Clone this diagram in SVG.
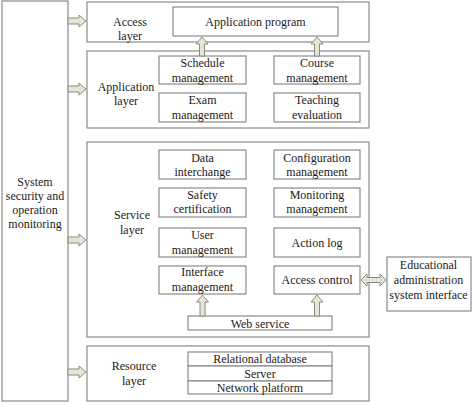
<svg xmlns="http://www.w3.org/2000/svg" width="474" height="405" viewBox="0 0 474 405" font-family="Liberation Serif, DejaVu Serif, serif">
<style>
.box{fill:#fff;stroke:#8a8a8a;stroke-width:1.2}
.t{font-size:12px;fill:#1a1a1a;text-anchor:middle}
.arr{fill:#e6e6d6;stroke:#8a8a80;stroke-width:1}
</style>
<rect width="474" height="405" fill="#fff"/>
<g id="security">
<rect class="box" x="2" y="1" width="66" height="400"/>
<text class="t" x="35" y="186">System</text>
<text class="t" x="35" y="200">security and</text>
<text class="t" x="35" y="214">operation</text>
<text class="t" x="35" y="228">monitoring</text>
</g>
<g id="access-layer">
<rect class="box" x="87" y="2" width="282" height="40"/>
<text class="t" x="130" y="26">Access</text>
<text class="t" x="130" y="40">layer</text>
</g>
<g id="app-program">
<rect class="box" x="173" y="7" width="165" height="29"/>
<text class="t" x="255.5" y="25.5">Application program</text>
</g>
<g id="application-layer">
<rect class="box" x="87" y="51" width="282" height="77"/>
<text class="t" x="126" y="91">Application</text>
<text class="t" x="126" y="105">layer</text>
</g>
<g id="schedule">
<rect class="box" x="159" y="56" width="87" height="28"/>
<text class="t" x="202.5" y="67">Schedule</text>
<text class="t" x="202.5" y="81.5">management</text>
</g>
<g id="exam">
<rect class="box" x="159" y="93" width="87" height="29"/>
<text class="t" x="202.5" y="104">Exam</text>
<text class="t" x="202.5" y="119">management</text>
</g>
<g id="course">
<rect class="box" x="274" y="56" width="86" height="28"/>
<text class="t" x="317" y="67">Course</text>
<text class="t" x="317" y="81.5">management</text>
</g>
<g id="teaching">
<rect class="box" x="274" y="93" width="86" height="29"/>
<text class="t" x="317" y="104">Teaching</text>
<text class="t" x="317" y="119">evaluation</text>
</g>
<g id="service-layer">
<rect class="box" x="87" y="142" width="282" height="195"/>
<text class="t" x="132" y="219">Service</text>
<text class="t" x="132" y="233.5">layer</text>
</g>
<g id="data-interchange">
<rect class="box" x="159" y="150" width="87" height="29"/>
<text class="t" x="202.5" y="162">Data</text>
<text class="t" x="202.5" y="176">interchange</text>
</g>
<g id="safety">
<rect class="box" x="159" y="188" width="87" height="29"/>
<text class="t" x="202.5" y="199">Safety</text>
<text class="t" x="202.5" y="213">certification</text>
</g>
<g id="user">
<rect class="box" x="159" y="228" width="87" height="29"/>
<text class="t" x="202.5" y="239">User</text>
<text class="t" x="202.5" y="254">management</text>
</g>
<g id="interface">
<rect class="box" x="159" y="266" width="87" height="28"/>
<text class="t" x="202.5" y="276">Interface</text>
<text class="t" x="202.5" y="291">management</text>
</g>
<g id="configuration">
<rect class="box" x="274" y="150" width="86" height="29"/>
<text class="t" x="317" y="162">Configuration</text>
<text class="t" x="317" y="176">management</text>
</g>
<g id="monitoring">
<rect class="box" x="274" y="188" width="86" height="29"/>
<text class="t" x="317" y="199">Monitoring</text>
<text class="t" x="317" y="213">management</text>
</g>
<g id="action-log">
<rect class="box" x="274" y="228" width="86" height="29"/>
<text class="t" x="317" y="246.5">Action log</text>
</g>
<g id="access-control">
<rect class="box" x="274" y="266" width="86" height="28"/>
<text class="t" x="317" y="283.5">Access control</text>
</g>
<g id="web-service">
<rect class="box" x="188" y="316" width="144" height="14"/>
<text class="t" x="260" y="327.5">Web service</text>
</g>
<g id="resource-layer">
<rect class="box" x="87" y="346" width="282" height="55"/>
<text class="t" x="134" y="370">Resource</text>
<text class="t" x="134" y="385">layer</text>
</g>
<g id="resource-stack">
<rect class="box" x="188" y="352" width="144" height="14"/>
<rect class="box" x="188" y="366" width="144" height="15"/>
<rect class="box" x="188" y="381" width="144" height="13"/>
<text class="t" x="260" y="363">Relational database</text>
<text class="t" x="260" y="377.5">Server</text>
<text class="t" x="260" y="391.5">Network platform</text>
</g>
<g id="edu-interface">
<rect class="box" x="387" y="257" width="84" height="54"/>
<text class="t" x="428.5" y="269">Educational</text>
<text class="t" x="428.5" y="284">administration</text>
<text class="t" x="428.5" y="298.5">system interface</text>
</g>
<g id="connectors">
<path class="arr" d="M68,18 H79 V15 L86,21 L79,27 V24 H68 Z"/>
<path class="arr" d="M68,86 H79 V83 L86,89 L79,95 V92 H68 Z"/>
<path class="arr" d="M68,237 H79 V234 L86,240 L79,246 V243 H68 Z"/>
<path class="arr" d="M68,369 H79 V366 L86,372 L79,378 V375 H68 Z"/>
<path class="arr" d="M199.5,56 V44 H196 L202,37 L208,44 H204.5 V56 Z"/>
<path class="arr" d="M314.5,56 V44 H311 L317,37 L323,44 H319.5 V56 Z"/>
<path class="arr" d="M200,316 V302 H196.5 L202.5,295 L208.5,302 H205 V316 Z"/>
<path class="arr" d="M314.5,316 V302 H311 L317,295 L323,302 H319.5 V316 Z"/>
<path class="arr" d="M361,280 L367,274 V277.5 H380 V274 L386,280 L380,286 V282.5 H367 V286 Z"/>
</g>
</svg>
